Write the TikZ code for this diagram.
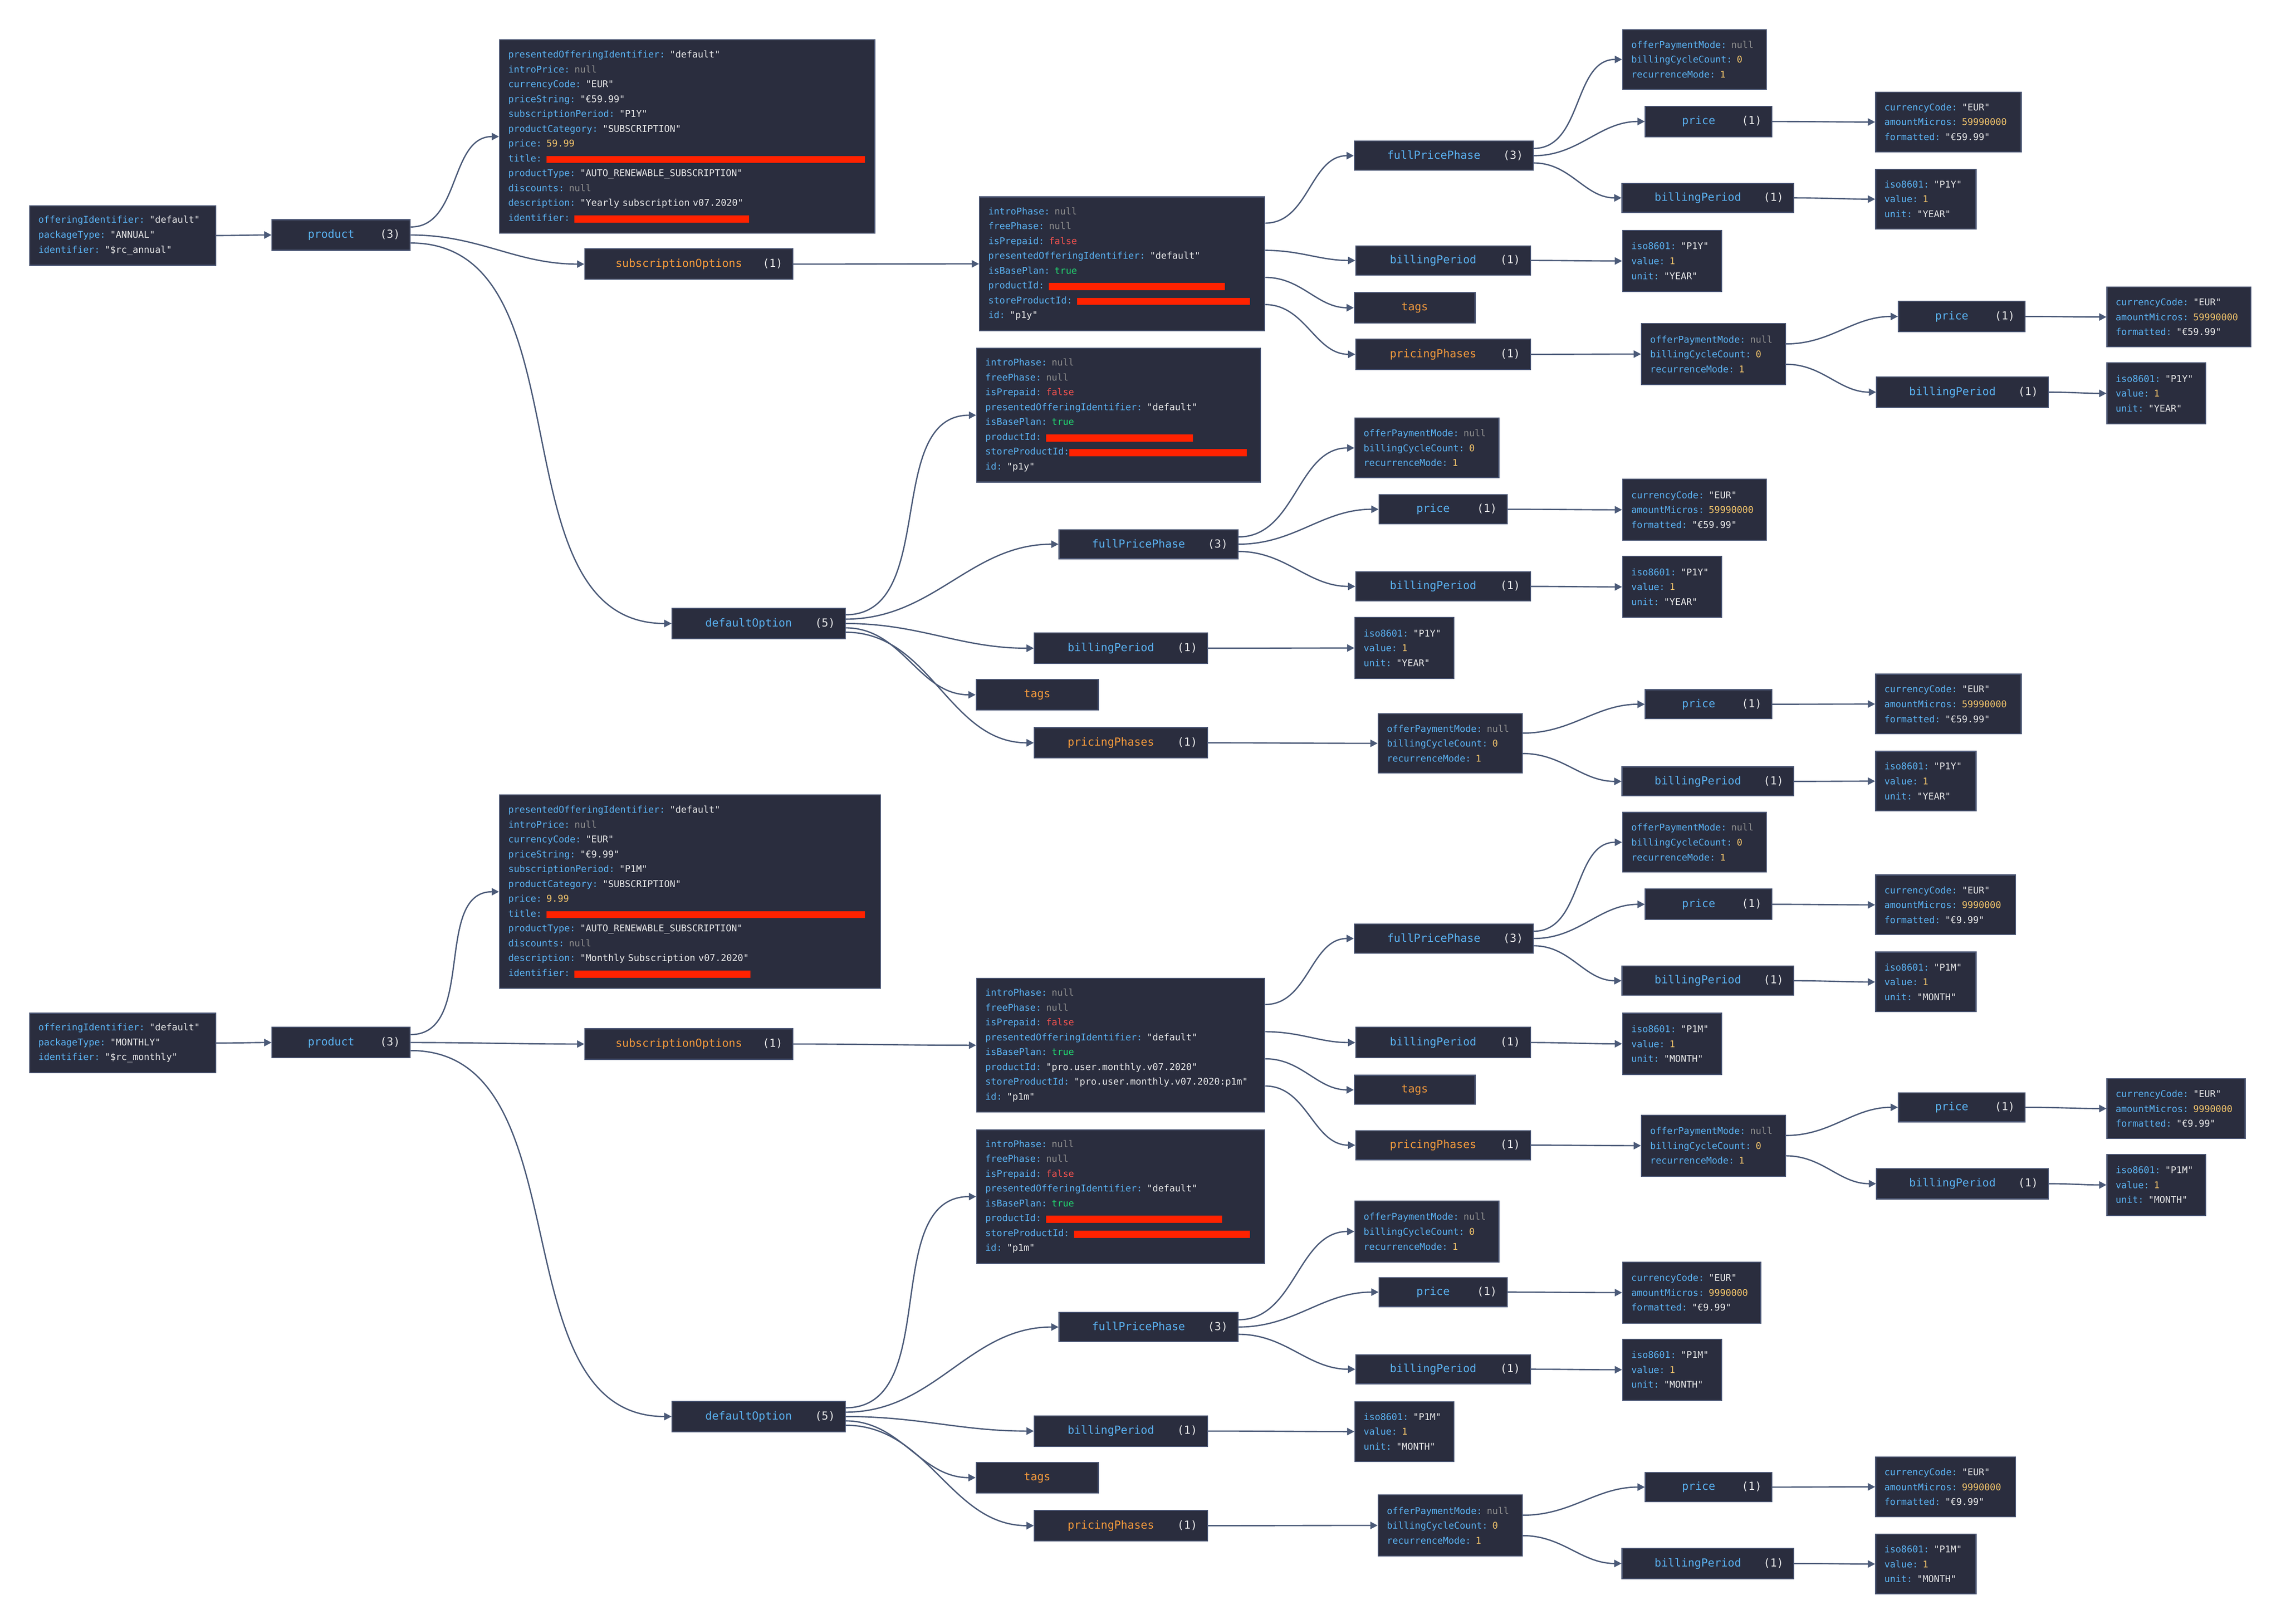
\documentclass[tikz,border=0pt]{standalone}
\usepackage{fontspec}
\setmonofont{DejaVu Sans Mono}
\usetikzlibrary{arrows.meta,calc}
\definecolor{bg}{HTML}{2A2D3E}
\definecolor{bd}{HTML}{4A5573}
\definecolor{ce}{HTML}{4B5A78}
\definecolor{ck}{HTML}{5AB2F2}
\definecolor{cs}{HTML}{E8E8E8}
\definecolor{cn}{HTML}{8E8E8E}
\definecolor{cf}{HTML}{F0524F}
\definecolor{ct}{HTML}{22D36F}
\definecolor{cy}{HTML}{F2C46B}
\definecolor{co}{HTML}{F59A3C}
\definecolor{rd}{HTML}{FF2200}
\newcommand\Kx[1]{\textcolor{ck}{#1:}\space}
\newcommand\Vs[1]{\textcolor{cs}{#1}}
\newcommand\Vn{\textcolor{cn}{null}}
\newcommand\Vf{\textcolor{cf}{false}}
\newcommand\Vt{\textcolor{ct}{true}}
\newcommand\Vy[1]{\textcolor{cy}{#1}}
\newcommand\Rb[1]{\textcolor{rd}{\rule[-1pt]{#1pt}{5pt}}}
\newcommand\OPM{\Kx{offerPaymentMode}\Vn\\\Kx{billingCycleCount}\Vy{0}\\\Kx{recurrenceMode}\Vy{1}}
\newcommand\PRC[2]{\Kx{currencyCode}\Vs{"EUR"}\\\Kx{amountMicros}\Vy{#1}\\\Kx{formatted}\Vs{"#2"}}
\newcommand\ISO[2]{\Kx{iso8601}\Vs{"#1"}\\\Kx{value}\Vy{1}\\\Kx{unit}\Vs{"#2"}}
\tikzset{
 lbox/.style={fill=bg,draw=bd,line width=0.7pt,inner xsep=7pt,inner ysep=0pt,align=left,
   font=\fontsize{7.6}{9}\selectfont\ttfamily},
 dbox/.style={fill=bg,draw=bd,line width=0.7pt,inner xsep=6pt,inner ysep=2pt,align=left,
   font=\fontsize{6.4}{10.2}\selectfont\ttfamily,text=cs},
 edge/.style={draw=ce,line width=0.9pt,-{Triangle[width=5pt,length=5pt]}}
}
\newcommand\mkLB[8]{\pgfmathsetmacro\tw{#4-#2-14}\pgfmathsetmacro\ww{#4-#2}\pgfmathsetmacro\hh{#5-#3}%
 \node[lbox,minimum width=\ww pt,minimum height=\hh pt,text width=\tw pt] (#1) at ({(#2+#4)/2},{(#3+#5)/2}) {\hfill\textcolor{#8}{#6}\hfill\textcolor{cs}{#7}};}
\newcommand\mkDB[6]{\pgfmathsetmacro\tw{#4-#2-12}\pgfmathsetmacro\ww{#4-#2}\pgfmathsetmacro\hh{#5-#3}%
 \node[dbox,anchor=north west,minimum width=\ww pt,minimum height=\hh pt,text width=\tw pt] (#1) at (#2,#3) {#6};}
\newcommand\mkED[3]{\draw[edge] ($(#2.east)+(0,#1)$) to[out=0,in=180] (#3.west);}
\newcommand\halfedges[1]{%
 \mkED{0}{off#1}{prod#1}
 \mkED{-5.5}{prod#1}{pdet#1}\mkED{0}{prod#1}{so#1}\mkED{5.5}{prod#1}{def#1}
 \mkED{0}{so#1}{sod#1}
 \mkED{-28}{sod#1}{fpp#1}\mkED{-9.3}{sod#1}{bp#1}\mkED{9.3}{sod#1}{tags#1}\mkED{28}{sod#1}{pp#1}
 \mkED{-5}{fpp#1}{fpp#1a}\mkED{0}{fpp#1}{fpp#1p}\mkED{5}{fpp#1}{fpp#1b}
 \mkED{0}{fpp#1p}{fpp#1pd}\mkED{0}{fpp#1b}{fpp#1bd}\mkED{0}{bp#1}{bp#1d}
 \mkED{0}{pp#1}{pp#1d}\mkED{-7}{pp#1d}{pp#1p}\mkED{7}{pp#1d}{pp#1b}
 \mkED{0}{pp#1p}{pp#1pd}\mkED{0}{pp#1b}{pp#1bd}
 \mkED{-6}{def#1}{dd#1}\mkED{-3}{def#1}{dfpp#1}\mkED{0}{def#1}{dbp#1}\mkED{3}{def#1}{dtags#1}\mkED{6}{def#1}{dpp#1}
 \mkED{-5}{dfpp#1}{dfpp#1a}\mkED{0}{dfpp#1}{dfpp#1p}\mkED{5}{dfpp#1}{dfpp#1b}
 \mkED{0}{dfpp#1p}{dfpp#1pd}\mkED{0}{dfpp#1b}{dfpp#1bd}\mkED{0}{dbp#1}{dbp#1d}
 \mkED{0}{dpp#1}{dpp#1d}\mkED{-7}{dpp#1d}{dpp#1p}\mkED{7}{dpp#1d}{dpp#1b}
 \mkED{0}{dpp#1p}{dpp#1pd}\mkED{0}{dpp#1b}{dpp#1bd}}
\begin{document}
\begin{tikzpicture}[x=1pt,y=-1pt]
\useasboundingbox[fill=white] (0,0) rectangle (1568,1116);
% ===== half 1 =====
\mkDB{off1}{20}{141}{148}{182}{\Kx{offeringIdentifier}\Vs{"default"}\\\Kx{packageType}\Vs{"ANNUAL"}\\\Kx{identifier}\Vs{"\$rc\_annual"}}
\mkLB{prod1}{187}{151}{282}{172}{product}{(3)}{ck}
\mkDB{pdet1}{343}{27}{601}{160}{\Kx{presentedOfferingIdentifier}\Vs{"default"}\\\Kx{introPrice}\Vn\\\Kx{currencyCode}\Vs{"EUR"}\\\Kx{priceString}\Vs{"€59.99"}\\\Kx{subscriptionPeriod}\Vs{"P1Y"}\\\Kx{productCategory}\Vs{"SUBSCRIPTION"}\\\Kx{price}\Vy{59.99}\\\Kx{title}\Rb{219}\\\Kx{productType}\Vs{"AUTO\_RENEWABLE\_SUBSCRIPTION"}\\\Kx{discounts}\Vn\\\Kx{description}\Vs{"Yearly subscription v07.2020"}\\\Kx{identifier}\Rb{120}}
\mkLB{so1}{402}{171}{545}{192}{subscriptionOptions}{(1)}{co}
\mkDB{sod1}{673}{135}{869}{227}{\Kx{introPhase}\Vn\\\Kx{freePhase}\Vn\\\Kx{isPrepaid}\Vf\\\Kx{presentedOfferingIdentifier}\Vs{"default"}\\\Kx{isBasePlan}\Vt\\\Kx{productId}\Rb{121}\\\Kx{storeProductId}\Rb{119}\\\Kx{id}\Vs{"p1y"}}
\mkLB{fpp1}{931}{97}{1054}{117}{fullPricePhase}{(3)}{ck}
\mkDB{fpp1a}{1115}{20}{1214}{61}{\OPM}
\mkLB{fpp1p}{1131}{73}{1218}{94}{price}{(1)}{ck}
\mkDB{fpp1pd}{1289}{63}{1389}{104}{\PRC{59990000}{€59.99}}
\mkLB{fpp1b}{1115}{126}{1233}{146}{billingPeriod}{(1)}{ck}
\mkDB{fpp1bd}{1289}{116}{1358}{157}{\ISO{P1Y}{YEAR}}
\mkLB{bp1}{932}{169}{1052}{189}{billingPeriod}{(1)}{ck}
\mkDB{bp1d}{1115}{158}{1183}{200}{\ISO{P1Y}{YEAR}}
\mkLB{tags1}{931}{201}{1014}{222}{tags}{}{co}
\mkLB{pp1}{932}{233}{1052}{254}{pricingPhases}{(1)}{co}
\mkDB{pp1d}{1128}{222}{1227}{264}{\OPM}
\mkLB{pp1p}{1305}{207}{1392}{228}{price}{(1)}{ck}
\mkDB{pp1pd}{1448}{197}{1547}{238}{\PRC{59990000}{€59.99}}
\mkLB{pp1b}{1290}{259}{1408}{280}{billingPeriod}{(1)}{ck}
\mkDB{pp1bd}{1448}{249}{1516}{291}{\ISO{P1Y}{YEAR}}
\mkLB{def1}{462}{418}{581}{439}{defaultOption}{(5)}{ck}
\mkDB{dd1}{671}{239}{866}{331}{\Kx{introPhase}\Vn\\\Kx{freePhase}\Vn\\\Kx{isPrepaid}\Vf\\\Kx{presentedOfferingIdentifier}\Vs{"default"}\\\Kx{isBasePlan}\Vt\\\Kx{productId}\Rb{101}\\\textcolor{ck}{storeProductId:}\Rb{122}\\\Kx{id}\Vs{"p1y"}}
\mkLB{dfpp1}{728}{364}{851}{384}{fullPricePhase}{(3)}{ck}
\mkDB{dfpp1a}{931}{287}{1030}{328}{\OPM}
\mkLB{dfpp1p}{948}{340}{1036}{360}{price}{(1)}{ck}
\mkDB{dfpp1pd}{1115}{329}{1214}{371}{\PRC{59990000}{€59.99}}
\mkLB{dfpp1b}{932}{393}{1052}{413}{billingPeriod}{(1)}{ck}
\mkDB{dfpp1bd}{1115}{382}{1183}{424}{\ISO{P1Y}{YEAR}}
\mkLB{dbp1}{711}{435}{830}{456}{billingPeriod}{(1)}{ck}
\mkDB{dbp1d}{931}{424}{999}{466}{\ISO{P1Y}{YEAR}}
\mkLB{dtags1}{671}{467}{755}{488}{tags}{}{co}
\mkLB{dpp1}{711}{500}{830}{521}{pricingPhases}{(1)}{co}
\mkDB{dpp1d}{947}{490}{1046}{531}{\OPM}
\mkLB{dpp1p}{1131}{474}{1218}{494}{price}{(1)}{ck}
\mkDB{dpp1pd}{1289}{463}{1389}{504}{\PRC{59990000}{€59.99}}
\mkLB{dpp1b}{1115}{527}{1233}{547}{billingPeriod}{(1)}{ck}
\mkDB{dpp1bd}{1289}{516}{1358}{557}{\ISO{P1Y}{YEAR}}
% ===== half 2 =====
\mkDB{off2}{20}{696}{148}{737}{\Kx{offeringIdentifier}\Vs{"default"}\\\Kx{packageType}\Vs{"MONTHLY"}\\\Kx{identifier}\Vs{"\$rc\_monthly"}}
\mkLB{prod2}{187}{706}{282}{727}{product}{(3)}{ck}
\mkDB{pdet2}{343}{546}{605}{679}{\Kx{presentedOfferingIdentifier}\Vs{"default"}\\\Kx{introPrice}\Vn\\\Kx{currencyCode}\Vs{"EUR"}\\\Kx{priceString}\Vs{"€9.99"}\\\Kx{subscriptionPeriod}\Vs{"P1M"}\\\Kx{productCategory}\Vs{"SUBSCRIPTION"}\\\Kx{price}\Vy{9.99}\\\Kx{title}\Rb{219}\\\Kx{productType}\Vs{"AUTO\_RENEWABLE\_SUBSCRIPTION"}\\\Kx{discounts}\Vn\\\Kx{description}\Vs{"Monthly Subscription v07.2020"}\\\Kx{identifier}\Rb{121}}
\mkLB{so2}{402}{707}{545}{728}{subscriptionOptions}{(1)}{co}
\mkDB{sod2}{671}{672}{869}{764}{\Kx{introPhase}\Vn\\\Kx{freePhase}\Vn\\\Kx{isPrepaid}\Vf\\\Kx{presentedOfferingIdentifier}\Vs{"default"}\\\Kx{isBasePlan}\Vt\\\Kx{productId}\Vs{"pro.user.monthly.v07.2020"}\\\Kx{storeProductId}\Vs{"pro.user.monthly.v07.2020:p1m"}\\\Kx{id}\Vs{"p1m"}}
\mkLB{fpp2}{931}{635}{1054}{655}{fullPricePhase}{(3)}{ck}
\mkDB{fpp2a}{1115}{558}{1214}{599}{\OPM}
\mkLB{fpp2p}{1131}{611}{1218}{632}{price}{(1)}{ck}
\mkDB{fpp2pd}{1289}{601}{1385}{642}{\PRC{9990000}{€9.99}}
\mkLB{fpp2b}{1115}{664}{1233}{684}{billingPeriod}{(1)}{ck}
\mkDB{fpp2bd}{1289}{654}{1358}{695}{\ISO{P1M}{MONTH}}
\mkLB{bp2}{932}{706}{1052}{727}{billingPeriod}{(1)}{ck}
\mkDB{bp2d}{1115}{696}{1183}{738}{\ISO{P1M}{MONTH}}
\mkLB{tags2}{931}{739}{1014}{759}{tags}{}{co}
\mkLB{pp2}{932}{777}{1052}{797}{pricingPhases}{(1)}{co}
\mkDB{pp2d}{1128}{766}{1227}{808}{\OPM}
\mkLB{pp2p}{1305}{751}{1392}{771}{price}{(1)}{ck}
\mkDB{pp2pd}{1448}{741}{1543}{782}{\PRC{9990000}{€9.99}}
\mkLB{pp2b}{1290}{803}{1408}{824}{billingPeriod}{(1)}{ck}
\mkDB{pp2bd}{1448}{793}{1516}{835}{\ISO{P1M}{MONTH}}
\mkLB{def2}{462}{963}{581}{984}{defaultOption}{(5)}{ck}
\mkDB{dd2}{671}{776}{869}{868}{\Kx{introPhase}\Vn\\\Kx{freePhase}\Vn\\\Kx{isPrepaid}\Vf\\\Kx{presentedOfferingIdentifier}\Vs{"default"}\\\Kx{isBasePlan}\Vt\\\Kx{productId}\Rb{121}\\\Kx{storeProductId}\Rb{121}\\\Kx{id}\Vs{"p1m"}}
\mkLB{dfpp2}{728}{902}{851}{922}{fullPricePhase}{(3)}{ck}
\mkDB{dfpp2a}{931}{825}{1030}{867}{\OPM}
\mkLB{dfpp2p}{948}{878}{1036}{898}{price}{(1)}{ck}
\mkDB{dfpp2pd}{1115}{867}{1210}{909}{\PRC{9990000}{€9.99}}
\mkLB{dfpp2b}{932}{931}{1052}{951}{billingPeriod}{(1)}{ck}
\mkDB{dfpp2bd}{1115}{920}{1183}{962}{\ISO{P1M}{MONTH}}
\mkLB{dbp2}{711}{973}{830}{994}{billingPeriod}{(1)}{ck}
\mkDB{dbp2d}{931}{963}{999}{1004}{\ISO{P1M}{MONTH}}
\mkLB{dtags2}{671}{1005}{755}{1026}{tags}{}{co}
\mkLB{dpp2}{711}{1038}{830}{1059}{pricingPhases}{(1)}{co}
\mkDB{dpp2d}{947}{1027}{1046}{1069}{\OPM}
\mkLB{dpp2p}{1131}{1012}{1218}{1032}{price}{(1)}{ck}
\mkDB{dpp2pd}{1289}{1001}{1385}{1042}{\PRC{9990000}{€9.99}}
\mkLB{dpp2b}{1115}{1064}{1233}{1085}{billingPeriod}{(1)}{ck}
\mkDB{dpp2bd}{1289}{1054}{1358}{1095}{\ISO{P1M}{MONTH}}
\halfedges{1}
\halfedges{2}
\end{tikzpicture}
\end{document}
